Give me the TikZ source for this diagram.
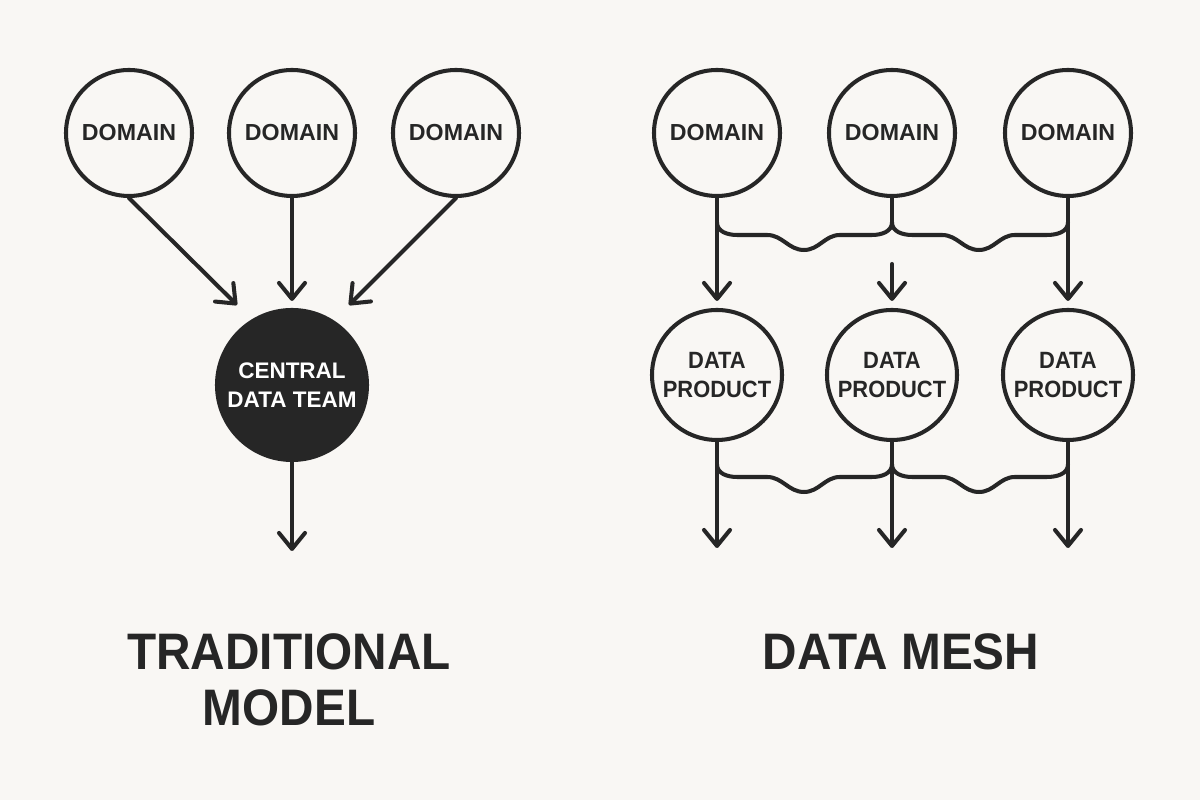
\documentclass[tikz,border=0pt]{standalone}
\usepackage{fontspec}
\setmainfont{Liberation Sans}
\newfontfamily\narrowfont[FakeStretch=0.93]{Liberation Sans}
\usepackage{xcolor}
\usetikzlibrary{arrows.meta,calc}
\definecolor{paper}{HTML}{F9F7F4}
\definecolor{ink}{HTML}{262626}
\tikzset{
  link/.style={draw=ink,line width=1.15pt,line cap=round,line join=round},
  flow/.style={link,-{Straight Barb[length=1.6mm,width=2.6mm,line width=1.15pt,round]}},
  domnode/.style={circle,draw=ink,line width=1.15pt,minimum size=1.26cm,inner sep=0pt,align=center,text=ink,
    font=\fontsize{6.6}{8}\selectfont\bfseries},
  prodnode/.style={domnode,minimum size=1.3cm,font=\narrowfont\fontsize{6.7}{8}\selectfont\bfseries},
  teamnode/.style={domnode,fill=ink,text=white,minimum size=1.5cm,font=\fontsize{6.4}{8.2}\selectfont\bfseries},
  captext/.style={text=ink,align=center,font=\narrowfont\fontsize{14.6}{16}\selectfont\bfseries}
}
\newcommand{\meshwave}[2]{\draw[link] (#1) to[out=-90,in=180] ++(0.2,-0.125) -- ++(0.3,0)
  to[out=0,in=180] ++(0.37,-0.15) to[out=0,in=180] ++(0.36,0.15) -- ++(0.32,0) to[out=0,in=-90] (#2);}

\begin{document}
\begin{tikzpicture}
  \fill[paper] (0,0) rectangle (12,8);
  % traditional model
  \node[domnode] (tdom1) at (1.29,6.67) {DOMAIN};
  \node[domnode] (tdom2) at (2.92,6.67) {DOMAIN};
  \node[domnode] (tdom3) at (4.56,6.67) {DOMAIN};
  \node[teamnode] (team) at (2.92,4.15) {CENTRAL\\DATA TEAM};
  \coordinate (tleft) at (2.37,4.95);
  \coordinate (tright) at (3.49,4.95);
  \coordinate (tout) at (2.92,2.49);
  \draw[flow] (tdom1.south) -- (tleft);
  \draw[flow,shorten >=0.07cm] (tdom2) -- (team);
  \draw[flow] (tdom3.south) -- (tright);
  \draw[flow] (team) -- (tout);
  % data mesh
  \node[domnode] (mdom1) at (7.17,6.67) {DOMAIN};
  \node[domnode] (mdom2) at (8.92,6.67) {DOMAIN};
  \node[domnode] (mdom3) at (10.68,6.67) {DOMAIN};
  \node[prodnode] (prod1) at (7.17,4.25) {DATA\\PRODUCT};
  \node[prodnode] (prod2) at (8.92,4.25) {DATA\\PRODUCT};
  \node[prodnode] (prod3) at (10.68,4.25) {DATA\\PRODUCT};
  \coordinate (top1) at (7.17,5.775);
  \coordinate (top2) at (8.92,5.775);
  \coordinate (top3) at (10.68,5.775);
  \coordinate (free) at (8.92,5.36);
  \draw[flow,shorten >=0.07cm] (mdom1) -- (prod1);
  \draw[link] (mdom2) -- (top2);
  \draw[flow,shorten >=0.07cm] (free) -- (prod2);
  \draw[flow,shorten >=0.07cm] (mdom3) -- (prod3);
  \meshwave{top1}{top2}
  \meshwave{top2}{top3}
  \coordinate (out1) at (7.17,2.52);
  \coordinate (out2) at (8.92,2.52);
  \coordinate (out3) at (10.68,2.52);
  \coordinate (bot1) at (7.17,3.355);
  \coordinate (bot2) at (8.92,3.355);
  \coordinate (bot3) at (10.68,3.355);
  \draw[flow] (prod1) -- (out1);
  \draw[flow] (prod2) -- (out2);
  \draw[flow] (prod3) -- (out3);
  \meshwave{bot1}{bot2}
  \meshwave{bot2}{bot3}
  % captions
  \node[captext] (ttrad) at (2.89,1.2) {TRADITIONAL\\MODEL};
  \node[captext] (tmesh) at (9.01,1.48) {DATA MESH};
\end{tikzpicture}
\end{document}
